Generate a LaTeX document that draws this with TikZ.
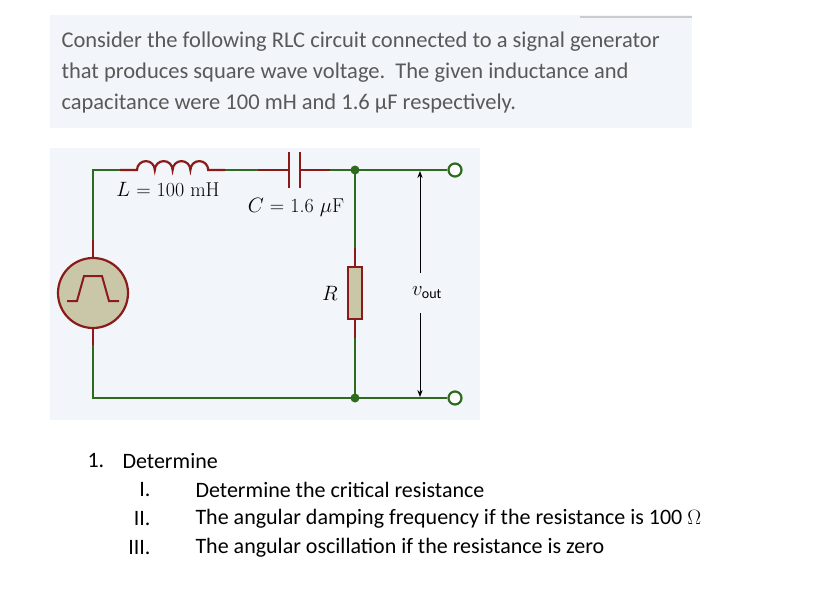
\documentclass[tikz,border=0pt]{standalone}
\usepackage{fontspec}
\setmainfont{Carlito}
\newfontfamily\serifc{Latin Modern Roman}
\usetikzlibrary{arrows.meta}
\definecolor{wg}{HTML}{2E6B1E}
\definecolor{wr}{HTML}{8B1A1A}
\definecolor{pan}{HTML}{F2F5F9}
\definecolor{src}{HTML}{C9C7A8}
\definecolor{txt}{HTML}{595959}
\begin{document}
\begin{tikzpicture}[x=1pt,y=-1pt,
  gw/.style={wg,line width=2.2pt},
  rw/.style={wr,line width=2.2pt},
  para/.style={anchor=west,text=txt,font=\fontsize{22.5}{26}\selectfont},
  lst/.style={anchor=west,font=\fontsize{22}{26}\selectfont},
  lab/.style={font=\serifc\fontsize{20}{22}\selectfont},
  dot/.style={circle,fill=wg,inner sep=0,minimum size=9pt},
  term/.style={circle,draw=wg,line width=2.2pt,fill=white,inner sep=0,minimum size=13pt}]
\useasboundingbox (0,0) rectangle (822,613);
\fill[white] (0,0) rectangle (822,613);
\fill[pan] (50,15) rectangle (692,128);
\draw[gray!40,line width=2.5pt] (580,17) -- (692,17);
\node[para] (t1) at (58,42) {Consider the following RLC circuit connected to a signal generator};
\node[para] (t2) at (58,73) {that produces square wave voltage.\ \ The given inductance and};
\node[para] (t3) at (58,104) {capacitance were 100 mH and 1.6 \textmu F respectively.};
\fill[pan] (50,148) rectangle (480,420);
% wires
\coordinate (tl) at (93,170); \coordinate (bl) at (93,398);
\coordinate (jt) at (355,170); \coordinate (jb) at (355,398);
\node[term] (ot) at (455,170) {}; \node[term] (ob) at (455,398) {};
\draw[gw] (93,240) -- (tl) -- (120,170);
\draw[gw] (225,170) -- (258,170);
\draw[gw] (330,170) -- (jt) -- (ot);
\draw[gw] (93,345) -- (bl) -- (jb) -- (ob);
\draw[gw] (jt) -- (355,248); \draw[gw] (355,338) -- (jb);
\node[dot] (dt) at (jt) {}; \node[dot] (db) at (jb) {};
% inductor
\draw[rw] (120,170) -- (137,170)
  arc[start angle=180,end angle=360,radius=8.9] arc[start angle=180,end angle=360,radius=8.9]
  arc[start angle=180,end angle=360,radius=8.9] arc[start angle=180,end angle=360,radius=8.9]
  -- (225,170);
% capacitor
\draw[rw] (258,170) -- (289,170) (300,170) -- (330,170);
\draw[rw] (289,152) -- (289,188) (300,152) -- (300,188);
% resistor
\draw[rw] (355,248) -- (355,267) (355,319) -- (355,338);
\node[draw=wr,line width=2.2pt,fill=src,minimum width=14pt,minimum height=52pt,inner sep=0] (R) at (355,293) {};
% source
\draw[rw] (93,240) -- (93,258) (93,328) -- (93,345);
\node[circle,draw=wr,line width=2.2pt,fill=src,minimum size=70pt,inner sep=0] (S) at (93,293) {};
\draw[wr,line width=2pt] (67,301) -- (77,301) -- (84,276) -- (102,276) -- (109,301) -- (119,301);
% vout
\node[lab] (vo) at (427,293) {$v_{\mathrm{out}}$};
\draw[-{Stealth[length=7pt]},line width=0.9pt] (420,273) -- (420,171);
\draw[-{Stealth[length=7pt]},line width=0.9pt] (420,313) -- (420,397);
\node[lab] (Ll) at (168,190) {$L$ = 100 mH};
\node[lab] (Cl) at (296,207) {$C$ = 1.6 $\mu$F};
\node[lab] (Rl) at (330,293) {$R$};
% list
\node[lst] (l0n) at (84,461) {1.};
\node[lst] (l0) at (119,461) {Determine};
\node[lst,anchor=east] (r1) at (154,490) {I.};
\node[lst,anchor=east] (r2) at (154,519) {II.};
\node[lst,anchor=east] (r3) at (154,548) {III.};
\node[lst] (i1) at (192,490) {Determine the critical resistance};
\node[lst] (i2) at (192,519) {The angular damping frequency if the resistance is 100 \textit{$\Omega$}};
\node[lst] (i3) at (192,548) {The angular oscillation if the resistance is zero};
\end{tikzpicture}
\end{document}
